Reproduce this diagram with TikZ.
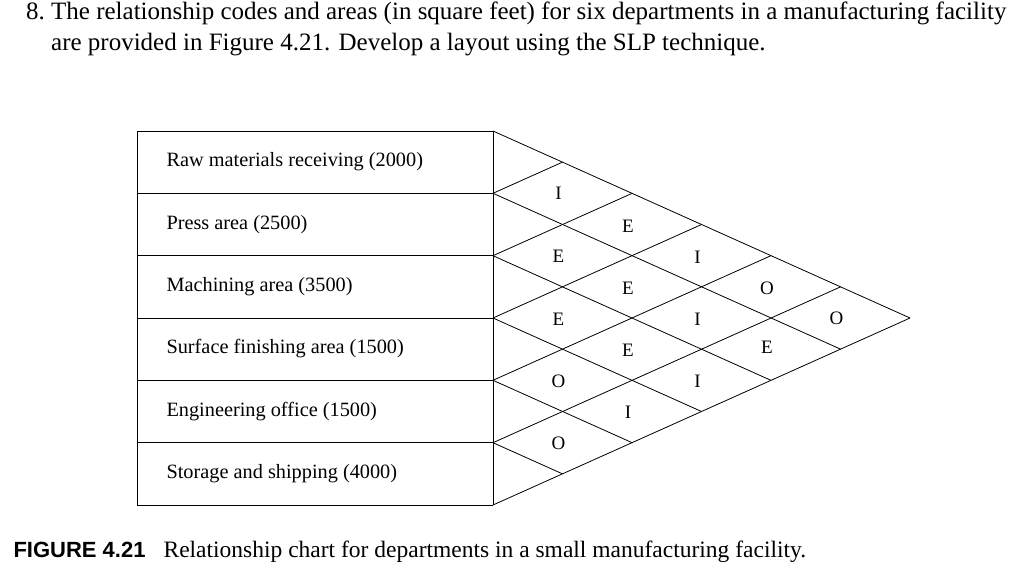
\documentclass[tikz,border=0pt]{standalone}
\usepackage{fontspec}
\setmainfont{Liberation Serif}
\setsansfont{Liberation Sans}
\begin{document}
\begin{tikzpicture}[x=1pt,y=-1pt,
  lbl/.style={anchor=west,font=\fontsize{20.3}{24}\selectfont},
  code/.style={font=\fontsize{19}{22}\selectfont},
  ln/.style={line width=0.8pt}]
\useasboundingbox (0,0) rectangle (1036,575);
\node[anchor=north west,align=left,font=\fontsize{25}{31}\selectfont,inner sep=0pt] (q) at (26,2)
 {8.\ The relationship codes and areas (in square feet) for six departments in a manufacturing facility\\
 \phantom{8.\ }are provided in Figure 4.21. Develop a layout using the SLP technique.};
\foreach \myY in {131,193.3,255.7,318,380.3,442.7,505}{
  \pgfmathsetmacro\myDn{(505-\myY)/2}
  \pgfmathsetmacro\myUp{(\myY-131)/2}
  \draw[ln] (137,\myY) -- (493,\myY);
  \draw[ln] (493,\myY) -- ({493+\myDn/0.4484},{\myY+\myDn});
  \draw[ln] (493,\myY) -- ({493+\myUp/0.4484},{\myY-\myUp});
}
\draw[ln] (137,131) -- (137,505);
\draw[ln] (493,131) -- (493,505);
\node[lbl] (r1) at (163,162) {Raw materials receiving (2000)};
\node[lbl] (r2) at (163,224.5) {Press area (2500)};
\node[lbl] (r3) at (163,287) {Machining area (3500)};
\node[lbl] (r4) at (163,349) {Surface finishing area (1500)};
\node[lbl] (r5) at (163,411.5) {Engineering office (1500)};
\node[lbl] (r6) at (163,474) {Storage and shipping (4000)};
\foreach \L/\yy/\c in {1/193/I,1/256/E,1/319/E,1/381/O,1/443/O,
  2/226/E,2/288/E,2/350/E,2/412/I,
  3/257/I,3/319/I,3/381/I,
  4/288/O,4/347/E,5/318/O}{
  \node[code] at ({493+69.5*\L-4},\yy) {\c};
}
\node[anchor=west,font=\fontsize{23.5}{27}\selectfont] (cap) at (10,552)
 {{\sffamily\bfseries\fontsize{22}{24}\selectfont FIGURE 4.21}\hspace{18pt}Relationship chart for departments in a small manufacturing facility.};
\end{tikzpicture}
\end{document}
